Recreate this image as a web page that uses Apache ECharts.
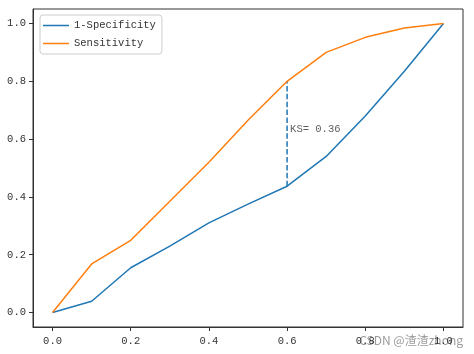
<!DOCTYPE html>
<html>
<head>
<meta charset="utf-8">
<script src="https://cdn.jsdelivr.net/npm/echarts@6/dist/echarts.min.js"></script>
<style>
html,body{margin:0;padding:0;background:#fff;}
#c{width:474px;height:354px;}
</style>
</head>
<body>
<div id="c"></div>
<script>
var thresholds = [0.0, 0.1, 0.2, 0.3, 0.4, 0.5, 0.6, 0.7, 0.8, 0.9, 1.0];
var specificity1 = [0.0, 0.039, 0.155, 0.23, 0.31, 0.375, 0.437, 0.54, 0.68, 0.835, 1.0];
var sensitivity = [0.0, 0.168, 0.25, 0.385, 0.52, 0.665, 0.80, 0.90, 0.952, 0.984, 1.0];
var ksX = 0.6;
var ksLow = 0.437;
var ksHigh = 0.80;
var ksLabel = 'KS= 0.36';
var tickValues = [0.0, 0.2, 0.4, 0.6, 0.8, 1.0];

var FONT = '"Liberation Mono", monospace';
var chart = echarts.init(document.getElementById('c'), null, {renderer: 'canvas'});

function pairs(xs, ys) { return xs.map(function (x, i) { return [x, ys[i]]; }); }

var axisCommon = {
  type: 'value',
  min: -0.05,
  max: 1.05,
  splitLine: {show: false},
  axisLine: {show: true, onZero: false, lineStyle: {color: '#333', width: 1}},
  axisTick: {show: true, customValues: tickValues, length: 4, lineStyle: {color: '#333'}},
  axisLabel: {show: true, customValues: tickValues, color: '#333', fontFamily: FONT, fontSize: 10.5,
    formatter: function (v) { return v.toFixed(1); }}
};

chart.setOption({
  animation: false,
  grid: {left: 33, top: 9, right: 11, bottom: 27, show: true, borderColor: '#333', borderWidth: 1},
  legend: {
    data: [{name: '1-Specificity', icon: 'rect'}, {name: 'Sensitivity', icon: 'rect'}],
    orient: 'vertical', left: 40, top: 15,
    itemWidth: 26, itemHeight: 1.5, itemGap: 7,
    padding: [5, 6, 5, 3],
    backgroundColor: '#fff', borderColor: '#ccc', borderWidth: 1, borderRadius: 3,
    textStyle: {color: '#333', fontFamily: FONT, fontSize: 10.5}
  },
  xAxis: Object.assign({}, axisCommon, {axisLabel: Object.assign({}, axisCommon.axisLabel, {margin: 9})}),
  yAxis: Object.assign({}, axisCommon, {axisLabel: Object.assign({}, axisCommon.axisLabel, {margin: 7})}),
  series: [
    {name: '1-Specificity', type: 'line', data: pairs(thresholds, specificity1), symbol: 'none',
      lineStyle: {color: '#1f77b4', width: 1.5}, itemStyle: {color: '#1f77b4'}, z: 3},
    {name: 'Sensitivity', type: 'line', data: pairs(thresholds, sensitivity), symbol: 'none',
      lineStyle: {color: '#ff7f0e', width: 1.5}, itemStyle: {color: '#ff7f0e'}, z: 3},
    {name: 'KS', type: 'line', data: [[ksX, ksLow], [ksX, ksHigh]], symbol: 'none',
      lineStyle: {color: '#1f77b4', width: 1.5, type: [5.5, 2.4]}, z: 2},
    {name: 'KSLabel', type: 'scatter', data: [[ksX, 0.633]], symbolSize: 0,
      label: {show: true, position: 'right', distance: 3, formatter: ksLabel,
        color: '#333', fontFamily: FONT, fontSize: 10.5}}
  ],
  graphic: [{
    type: 'text', right: 11, top: 334,
    style: {text: 'CSDN @渣渣zhong', fill: 'rgba(120,120,120,0.75)', font: '12px "Noto Sans CJK SC", sans-serif'}
  }]
});
</script>
</body>
</html>
